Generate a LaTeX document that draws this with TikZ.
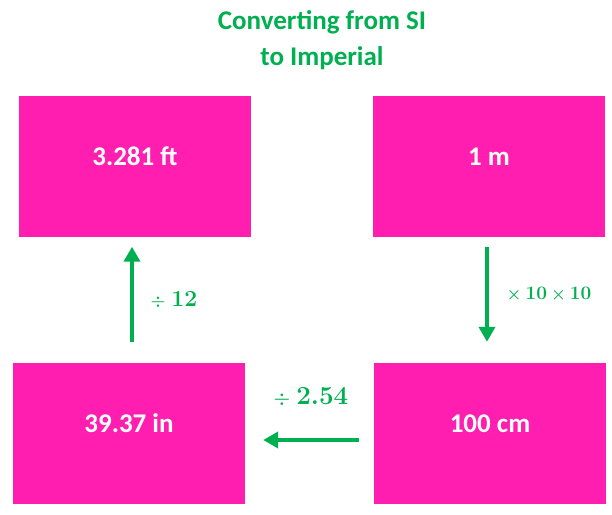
\documentclass[tikz,border=0pt]{standalone}
\usepackage{amsmath}
\usepackage{fontspec}
\setmainfont{Carlito}
\newfontfamily\lmserif{Latin Modern Roman}
\usepackage{tikz}
\usetikzlibrary{arrows.meta,calc}
\definecolor{unitpink}{RGB}{255,30,175}
\definecolor{convgreen}{RGB}{0,176,80}
\newcommand{\opsize}[2]{{\fontsize{#1}{#1}\selectfont #2}}
\tikzset{
  unitbox/.style={fill=unitpink,draw=none,minimum width=232pt,minimum height=141pt,
    text=white,font=\fontsize{27}{30}\selectfont\bfseries,text height=18pt,text depth=20pt},
  convarrow/.style={draw=convgreen,line width=4.5pt,-{Triangle[length=15pt,width=16pt]}},
  convlabel/.style={text=convgreen,font=\lmserif\bfseries}
}
\begin{document}
\begin{tikzpicture}[x=1pt,y=-1pt]
      \useasboundingbox (0,0) rectangle (612,514);
      \node[text=convgreen,font=\fontsize{27}{36}\selectfont\bfseries,align=center] (title) at (322,40) {Converting from SI\\to Imperial};
      \node[unitbox] (ft) at (135,166) {3.281 ft};
      \node[unitbox] (m) at (489,166) {1 m};
      \node[unitbox] (in) at (129,433.5) {39.37 in};
      \node[unitbox] (cm) at (490,433.5) {100 cm};
      \draw[convarrow,shorten <=21pt,shorten >=10pt] ([xshift=3pt]in.north) -- ([xshift=3pt]in.north |- ft.south);
      \draw[convarrow,shorten <=10pt,shorten >=21pt] ([xshift=-2pt]m.south) -- ([xshift=-2pt]m.south |- cm.north);
      \draw[convarrow,shorten <=15pt,shorten >=18pt] ([yshift=-6.5pt]cm.west) -- ([yshift=-6.5pt]cm.west -| in.east);
      \node[convlabel,font=\lmserif\bfseries\fontsize{23}{26}\selectfont] (div12) at (174,299) {\opsize{17}{÷}\hspace{6pt}12};
      \node[convlabel,font=\lmserif\bfseries\fontsize{19}{22}\selectfont] (times) at (549,294) {\opsize{17}{×}\hspace{4pt}10\hspace{4pt}\opsize{17}{×}\hspace{4pt}10};
      \node[convlabel,font=\lmserif\bfseries\fontsize{26}{30}\selectfont] (div254) at (311,396) {\opsize{19}{÷}\hspace{6pt}2.54};
\end{tikzpicture}
\end{document}
